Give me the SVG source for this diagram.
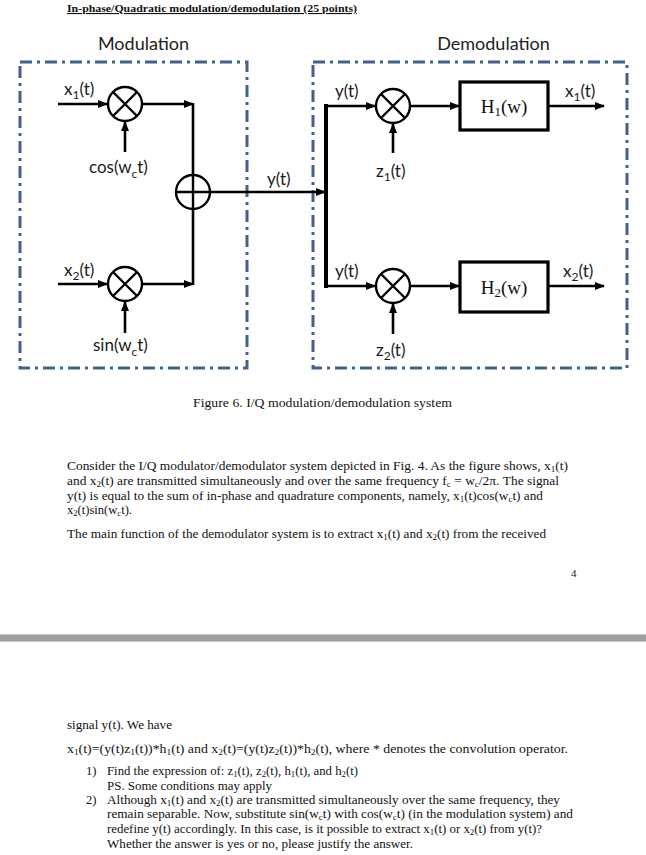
<svg xmlns="http://www.w3.org/2000/svg" width="646" height="855" viewBox="0 0 646 855">
<style>
.bg{fill:#fff}
.box{fill:none;stroke:#41618f;stroke-width:3;stroke-dasharray:12 5 3 5}
.ln{fill:none;stroke:#000;stroke-width:2.6}
.thick{fill:none;stroke:#000;stroke-width:4}
.blk{fill:#fff;stroke:#000;stroke-width:3.2}
.op{fill:#fff;stroke:#000;stroke-width:2.4}
.lbl{font-family:Lato,"Open Sans",sans-serif;font-size:17px;fill:#1a1a1a}
.ttl{font-family:Lato,"Open Sans",sans-serif;font-size:18px;fill:#222}
.hf{font-family:"Liberation Serif","DejaVu Serif",serif;font-size:19px;fill:#111}
.hs{font-size:13px}
.ls{font-size:12px}
.body{font-family:"Liberation Serif","DejaVu Serif",serif;font-size:12.5px;fill:#111}
.head{font-family:"Liberation Serif",serif;font-size:11px;font-weight:bold;fill:#111;text-decoration:underline}
.s{font-size:8.5px}
</style>
<defs>
<marker id="ar" markerUnits="userSpaceOnUse" markerWidth="10" markerHeight="8" refX="9" refY="4" orient="auto">
<path d="M0,0 L10,4 L0,8 z" fill="#000"/>
</marker>
</defs>
<rect class="bg" x="0" y="0" width="646" height="855"/>

<text class="head" x="67" y="12" textLength="290" lengthAdjust="spacingAndGlyphs">In-phase/Quadratic modulation/demodulation (25 points)</text>

<g id="modulation-box">
<rect class="box" x="20" y="62" width="227" height="306"/>
<text class="ttl" x="143.5" y="50" text-anchor="middle">Modulation</text>
</g>
<g id="demodulation-box">
<rect class="box" x="313" y="62" width="314" height="306"/>
<text class="ttl" x="493.5" y="50" text-anchor="middle">Demodulation</text>
</g>

<g id="connectors">
<line class="ln" x1="58" y1="104" x2="107" y2="104" marker-end="url(#ar)"/>
<line class="ln" x1="125" y1="152" x2="125" y2="122" marker-end="url(#ar)"/>
<line class="ln" x1="142" y1="104" x2="193" y2="104" marker-end="url(#ar)"/>
<line class="ln" x1="193" y1="103" x2="193" y2="176"/>
<line class="ln" x1="58" y1="284" x2="107" y2="284" marker-end="url(#ar)"/>
<line class="ln" x1="125" y1="333" x2="125" y2="302" marker-end="url(#ar)"/>
<line class="ln" x1="142" y1="284" x2="193" y2="284" marker-end="url(#ar)"/>
<line class="ln" x1="193" y1="285" x2="193" y2="209"/>
<line class="ln" x1="211" y1="192" x2="325" y2="192" marker-end="url(#ar)"/>
<line class="thick" x1="326" y1="104" x2="326" y2="288"/>
<line class="ln" x1="326" y1="106" x2="375" y2="106" marker-end="url(#ar)"/>
<line class="ln" x1="393" y1="153" x2="393" y2="124" marker-end="url(#ar)"/>
<line class="ln" x1="411" y1="106" x2="459" y2="106" marker-end="url(#ar)"/>
<line class="ln" x1="548" y1="106" x2="604" y2="106" marker-end="url(#ar)"/>
<line class="ln" x1="326" y1="286" x2="375" y2="286" marker-end="url(#ar)"/>
<line class="ln" x1="393" y1="334" x2="393" y2="304" marker-end="url(#ar)"/>
<line class="ln" x1="411" y1="286" x2="459" y2="286" marker-end="url(#ar)"/>
<line class="ln" x1="548" y1="286" x2="604" y2="286" marker-end="url(#ar)"/>
</g>

<g id="mult-x1">
<circle class="op" cx="125" cy="104" r="17"/>
<path class="op" d="M113,92 L137,116 M137,92 L113,116"/>
</g>
<g id="mult-x2">
<circle class="op" cx="125" cy="284" r="17"/>
<path class="op" d="M113,272 L137,296 M137,272 L113,296"/>
</g>
<g id="adder">
<circle class="op" cx="193" cy="192" r="17"/>
<path class="op" d="M176,192 L210,192 M193,175 L193,209"/>
</g>
<g id="mult-z1">
<circle class="op" cx="393" cy="106" r="17"/>
<path class="op" d="M381,94 L405,118 M405,94 L381,118"/>
</g>
<g id="mult-z2">
<circle class="op" cx="393" cy="286" r="17"/>
<path class="op" d="M381,274 L405,298 M405,274 L381,298"/>
</g>
<g id="H1">
<rect class="blk" x="460" y="82" width="88" height="48"/>
<text class="hf" x="504" y="113" text-anchor="middle">H<tspan class="hs" dy="3">1</tspan><tspan dy="-3">(w)</tspan></text>
</g>
<g id="H2">
<rect class="blk" x="460" y="262" width="88" height="50"/>
<text class="hf" x="504" y="294" text-anchor="middle">H<tspan class="hs" dy="3">2</tspan><tspan dy="-3">(w)</tspan></text>
</g>

<g id="labels">
<text class="lbl" x="64" y="95">x<tspan class="ls" dy="4">1</tspan><tspan dy="-4">(t)</tspan></text>
<text class="lbl" x="89" y="173">cos(w<tspan class="ls" dy="5">c</tspan><tspan dy="-5">t)</tspan></text>
<text class="lbl" x="267" y="185">y(t)</text>
<text class="lbl" x="64" y="276">x<tspan class="ls" dy="4">2</tspan><tspan dy="-4">(t)</tspan></text>
<text class="lbl" x="93" y="351">sin(w<tspan class="ls" dy="5">c</tspan><tspan dy="-5">t)</tspan></text>
<text class="lbl" x="335" y="97">y(t)</text>
<text class="lbl" x="335" y="277">y(t)</text>
<text class="lbl" x="376" y="177">z<tspan class="ls" dy="4">1</tspan><tspan dy="-4">(t)</tspan></text>
<text class="lbl" x="376" y="356">z<tspan class="ls" dy="4">2</tspan><tspan dy="-4">(t)</tspan></text>
<text class="lbl" x="565" y="97">x<tspan class="ls" dy="4">1</tspan><tspan dy="-4">(t)</tspan></text>
<text class="lbl" x="563" y="277">x<tspan class="ls" dy="4">2</tspan><tspan dy="-4">(t)</tspan></text>
</g>

<text class="body" x="193" y="407" style="font-size:11.5px" textLength="259" lengthAdjust="spacingAndGlyphs">Figure 6. I/Q modulation/demodulation system</text>

<g id="para1" class="body">
<text x="67" y="470" textLength="501" lengthAdjust="spacingAndGlyphs">Consider the I/Q modulator/demodulator system depicted in Fig. 4. As the figure shows, x<tspan class="s" dy="2">1</tspan><tspan dy="-2">(t)</tspan></text>
<text x="67" y="485" textLength="492" lengthAdjust="spacingAndGlyphs">and x<tspan class="s" dy="2">2</tspan><tspan dy="-2">(t) are transmitted simultaneously and over the same frequency f</tspan><tspan class="s" dy="2">c</tspan><tspan dy="-2"> = w</tspan><tspan class="s" dy="2">c</tspan><tspan dy="-2">/2π. The signal</tspan></text>
<text x="67" y="500" textLength="476" lengthAdjust="spacingAndGlyphs">y(t) is equal to the sum of in-phase and quadrature components, namely, x<tspan class="s" dy="2">1</tspan><tspan dy="-2">(t)cos(w</tspan><tspan class="s" dy="2">c</tspan><tspan dy="-2">t) and</tspan></text>
<text x="67" y="514" textLength="65" lengthAdjust="spacingAndGlyphs">x<tspan class="s" dy="2">2</tspan><tspan dy="-2">(t)sin(w</tspan><tspan class="s" dy="2">c</tspan><tspan dy="-2">t).</tspan></text>
<text x="67" y="538" textLength="479" lengthAdjust="spacingAndGlyphs">The main function of the demodulator system is to extract  x<tspan class="s" dy="2">1</tspan><tspan dy="-2">(t) and x</tspan><tspan class="s" dy="2">2</tspan><tspan dy="-2">(t) from the received</tspan></text>
</g>

<text class="body" x="571" y="577" style="font-size:11px">4</text>

<rect x="0" y="634" width="646" height="8" fill="#c8c8c8"/>
<rect x="0" y="635" width="646" height="6" fill="#9e9e9e"/>

<g id="para2" class="body">
<text x="67" y="729" textLength="105" lengthAdjust="spacingAndGlyphs">signal y(t). We have</text>
<text x="67" y="753" textLength="501" lengthAdjust="spacingAndGlyphs">x<tspan class="s" dy="2">1</tspan><tspan dy="-2">(t)=(y(t)z</tspan><tspan class="s" dy="2">1</tspan><tspan dy="-2">(t))*h</tspan><tspan class="s" dy="2">1</tspan><tspan dy="-2">(t) and x</tspan><tspan class="s" dy="2">2</tspan><tspan dy="-2">(t)=(y(t)z</tspan><tspan class="s" dy="2">2</tspan><tspan dy="-2">(t))*h</tspan><tspan class="s" dy="2">2</tspan><tspan dy="-2">(t), where * denotes the convolution operator.</tspan></text>
<text x="86" y="775">1)</text>
<text x="107" y="775" textLength="251" lengthAdjust="spacingAndGlyphs">Find the expression of: z<tspan class="s" dy="2">1</tspan><tspan dy="-2">(t), z</tspan><tspan class="s" dy="2">2</tspan><tspan dy="-2">(t), h</tspan><tspan class="s" dy="2">1</tspan><tspan dy="-2">(t), and h</tspan><tspan class="s" dy="2">2</tspan><tspan dy="-2">(t)</tspan></text>
<text x="107" y="790" textLength="165" lengthAdjust="spacingAndGlyphs">PS. Some conditions may apply</text>
<text x="86" y="804">2)</text>
<text x="107" y="804" textLength="453" lengthAdjust="spacingAndGlyphs">Although x<tspan class="s" dy="2">1</tspan><tspan dy="-2">(t) and x</tspan><tspan class="s" dy="2">2</tspan><tspan dy="-2">(t) are transmitted simultaneously over the same frequency, they</tspan></text>
<text x="107" y="818" textLength="466" lengthAdjust="spacingAndGlyphs">remain separable. Now, substitute sin(w<tspan class="s" dy="2">c</tspan><tspan dy="-2">t) with cos(w</tspan><tspan class="s" dy="2">c</tspan><tspan dy="-2">t) (in the modulation system) and</tspan></text>
<text x="107" y="833" textLength="435" lengthAdjust="spacingAndGlyphs">redefine y(t) accordingly. In this case, is it possible to extract x<tspan class="s" dy="2">1</tspan><tspan dy="-2">(t) or x</tspan><tspan class="s" dy="2">2</tspan><tspan dy="-2">(t) from y(t)?</tspan></text>
<text x="107" y="848" textLength="306" lengthAdjust="spacingAndGlyphs">Whether the answer is yes or no, please justify the answer.</text>
</g>
</svg>
